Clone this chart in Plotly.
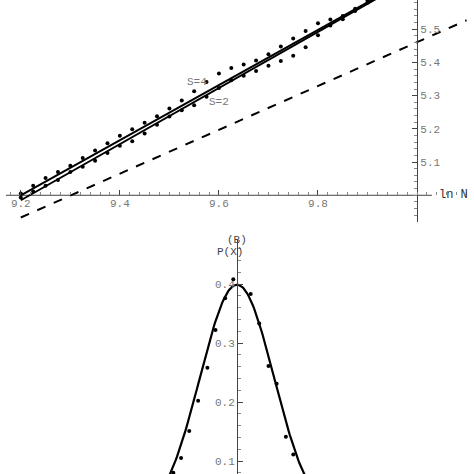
import numpy as np
import plotly.graph_objects as go

# Top panel data
lnN = [9.2, 9.225, 9.25, 9.275, 9.3, 9.325, 9.35, 9.375, 9.4, 9.425, 9.45, 9.475, 9.5, 9.525,
       9.55, 9.575, 9.6, 9.625, 9.65, 9.675, 9.7, 9.725, 9.75, 9.775, 9.8, 9.825, 9.85, 9.875, 9.9]
s4 = [5.005, 5.029, 5.052, 5.070, 5.089, 5.112, 5.135, 5.157, 5.179, 5.199, 5.218, 5.238, 5.261, 5.285,
      5.313, 5.341, 5.367, 5.383, 5.394, 5.406, 5.425, 5.448, 5.472, 5.495, 5.518, 5.529, 5.540, 5.562, 5.586]
s2 = [4.993, 5.011, 5.029, 5.046, 5.070, 5.086, 5.104, 5.127, 5.149, 5.163, 5.186, 5.212, 5.237, 5.256,
      5.271, 5.297, 5.323, 5.346, 5.360, 5.374, 5.390, 5.404, 5.420, 5.446, 5.482, 5.511, 5.530, 5.555, 5.580]
fit_s4 = (5.000, 0.83)   # intercept at 9.2, slope
fit_s2 = (4.985, 0.845)
ref_line = (4.933, 0.66)

# Bottom panel data
X = [-1.72, -1.51, -1.29, -1.05, -0.8, -0.58, -0.32, -0.1, 0.37, 0.6, 0.85, 1.07, 1.32, 1.52]
PX = [0.080, 0.105, 0.151, 0.202, 0.258, 0.322, 0.376, 0.408, 0.383, 0.333, 0.261, 0.231, 0.141, 0.111]

font = dict(family="Liberation Mono", size=11, color="#777")
fig = go.Figure()
xl = np.linspace(9.2, 9.95, 50)
for (a, b), dash in [(fit_s4, "solid"), (fit_s2, "solid"), (ref_line, "dash")]:
    xx = xl if dash == "solid" else np.linspace(9.2, 10.1, 50)
    fig.add_trace(go.Scatter(x=xx, y=a + b * (xx - 9.2), mode="lines",
                             line=dict(color="black", width=2, dash=dash), xaxis="x", yaxis="y"))
for s in (s4, s2):
    fig.add_trace(go.Scatter(x=lnN, y=s, mode="markers", marker=dict(color="black", size=4),
                             xaxis="x", yaxis="y"))
xg = np.linspace(-6.4, 6.4, 400)
fig.add_trace(go.Scatter(x=xg, y=np.exp(-xg**2 / 2) / np.sqrt(2 * np.pi), mode="lines",
                         line=dict(color="black", width=2.2), xaxis="x2", yaxis="y2"))
fig.add_trace(go.Scatter(x=X, y=PX, mode="markers", marker=dict(color="black", size=4),
                         xaxis="x2", yaxis="y2"))

fig.update_layout(
    width=474, height=474, margin=dict(l=0, r=0, t=0, b=0, autoexpand=False), showlegend=False,
    plot_bgcolor="white", paper_bgcolor="white",
    xaxis=dict(domain=[0, 1], range=[9.158, 10.115], anchor="free", position=0.588,
               showline=False, tickvals=[9.2, 9.4, 9.6, 9.8], ticktext=["9.2", "9.4", "9.6", "9.8"],
               ticks="inside", ticklen=5, tickcolor="#444", tickfont=font, showgrid=False, zeroline=False,
               minor=dict(dtick=0.02, ticks="inside", ticklen=3, tickcolor="#888")),
    yaxis=dict(domain=[0.532, 1], range=[4.92, 5.588], anchor="free", position=0.88, side="right",
               showline=True, linecolor="#444", tickvals=[5.1, 5.2, 5.3, 5.4, 5.5],
               ticktext=["5.1", "5.2", "5.3", "5.4", "5.5"],
               ticks="inside", ticklen=5, tickcolor="#444", tickfont=font, showgrid=False, zeroline=False,
               minor=dict(dtick=0.02, ticks="inside", ticklen=3, tickcolor="#888")),
    xaxis2=dict(domain=[0, 1], range=[-6.4, 6.4], visible=False),
    yaxis2=dict(domain=[0, 0.494], range=[0.078, 0.475], anchor="free", position=0.5, side="left",
                showline=True, linecolor="#444", tickvals=[0.1, 0.2, 0.3, 0.4],
                ticktext=["0.1", "0.2", "0.3", "0.4"], ticks="inside", ticklen=5, tickcolor="#444",
                tickfont=font, showgrid=False, zeroline=False,
                minor=dict(dtick=0.02, ticks="inside", ticklen=3, tickcolor="#888")),
    shapes=[dict(type="line", xref="x", yref="y", x0=9.17, x1=10.03, y0=5.0, y1=5.0,
                 line=dict(color="#444", width=1), layer="below")],
    annotations=[
        dict(x=10.04, y=5.0, xref="x", yref="y", text="ln N", showarrow=False, xanchor="left",
             font=dict(family="Liberation Mono", size=12, color="#333")),
        dict(x=9.556, y=5.34, xref="x", yref="y", text="S=4", showarrow=False, font=font),
        dict(x=9.6, y=5.28, xref="x", yref="y", text="S=2", showarrow=False, font=font),
        dict(x=0, y=0.474, xref="x2", yref="y2", text="(B)", showarrow=False, font=dict(family="Liberation Mono", size=11, color="#444")),
        dict(x=-0.2, y=0.454, xref="x2", yref="y2", text="P(X)", showarrow=False, font=dict(family="Liberation Mono", size=11, color="#444")),
    ],
)
fig.write_html("out.html", config={"displayModeBar": False})
with open("out.html") as f:
    html = f.read()
html = html.replace("<head>", "<head><style>html,body{margin:0;padding:0;overflow:hidden;}</style>", 1)
with open("out.html", "w") as f:
    f.write(html)
